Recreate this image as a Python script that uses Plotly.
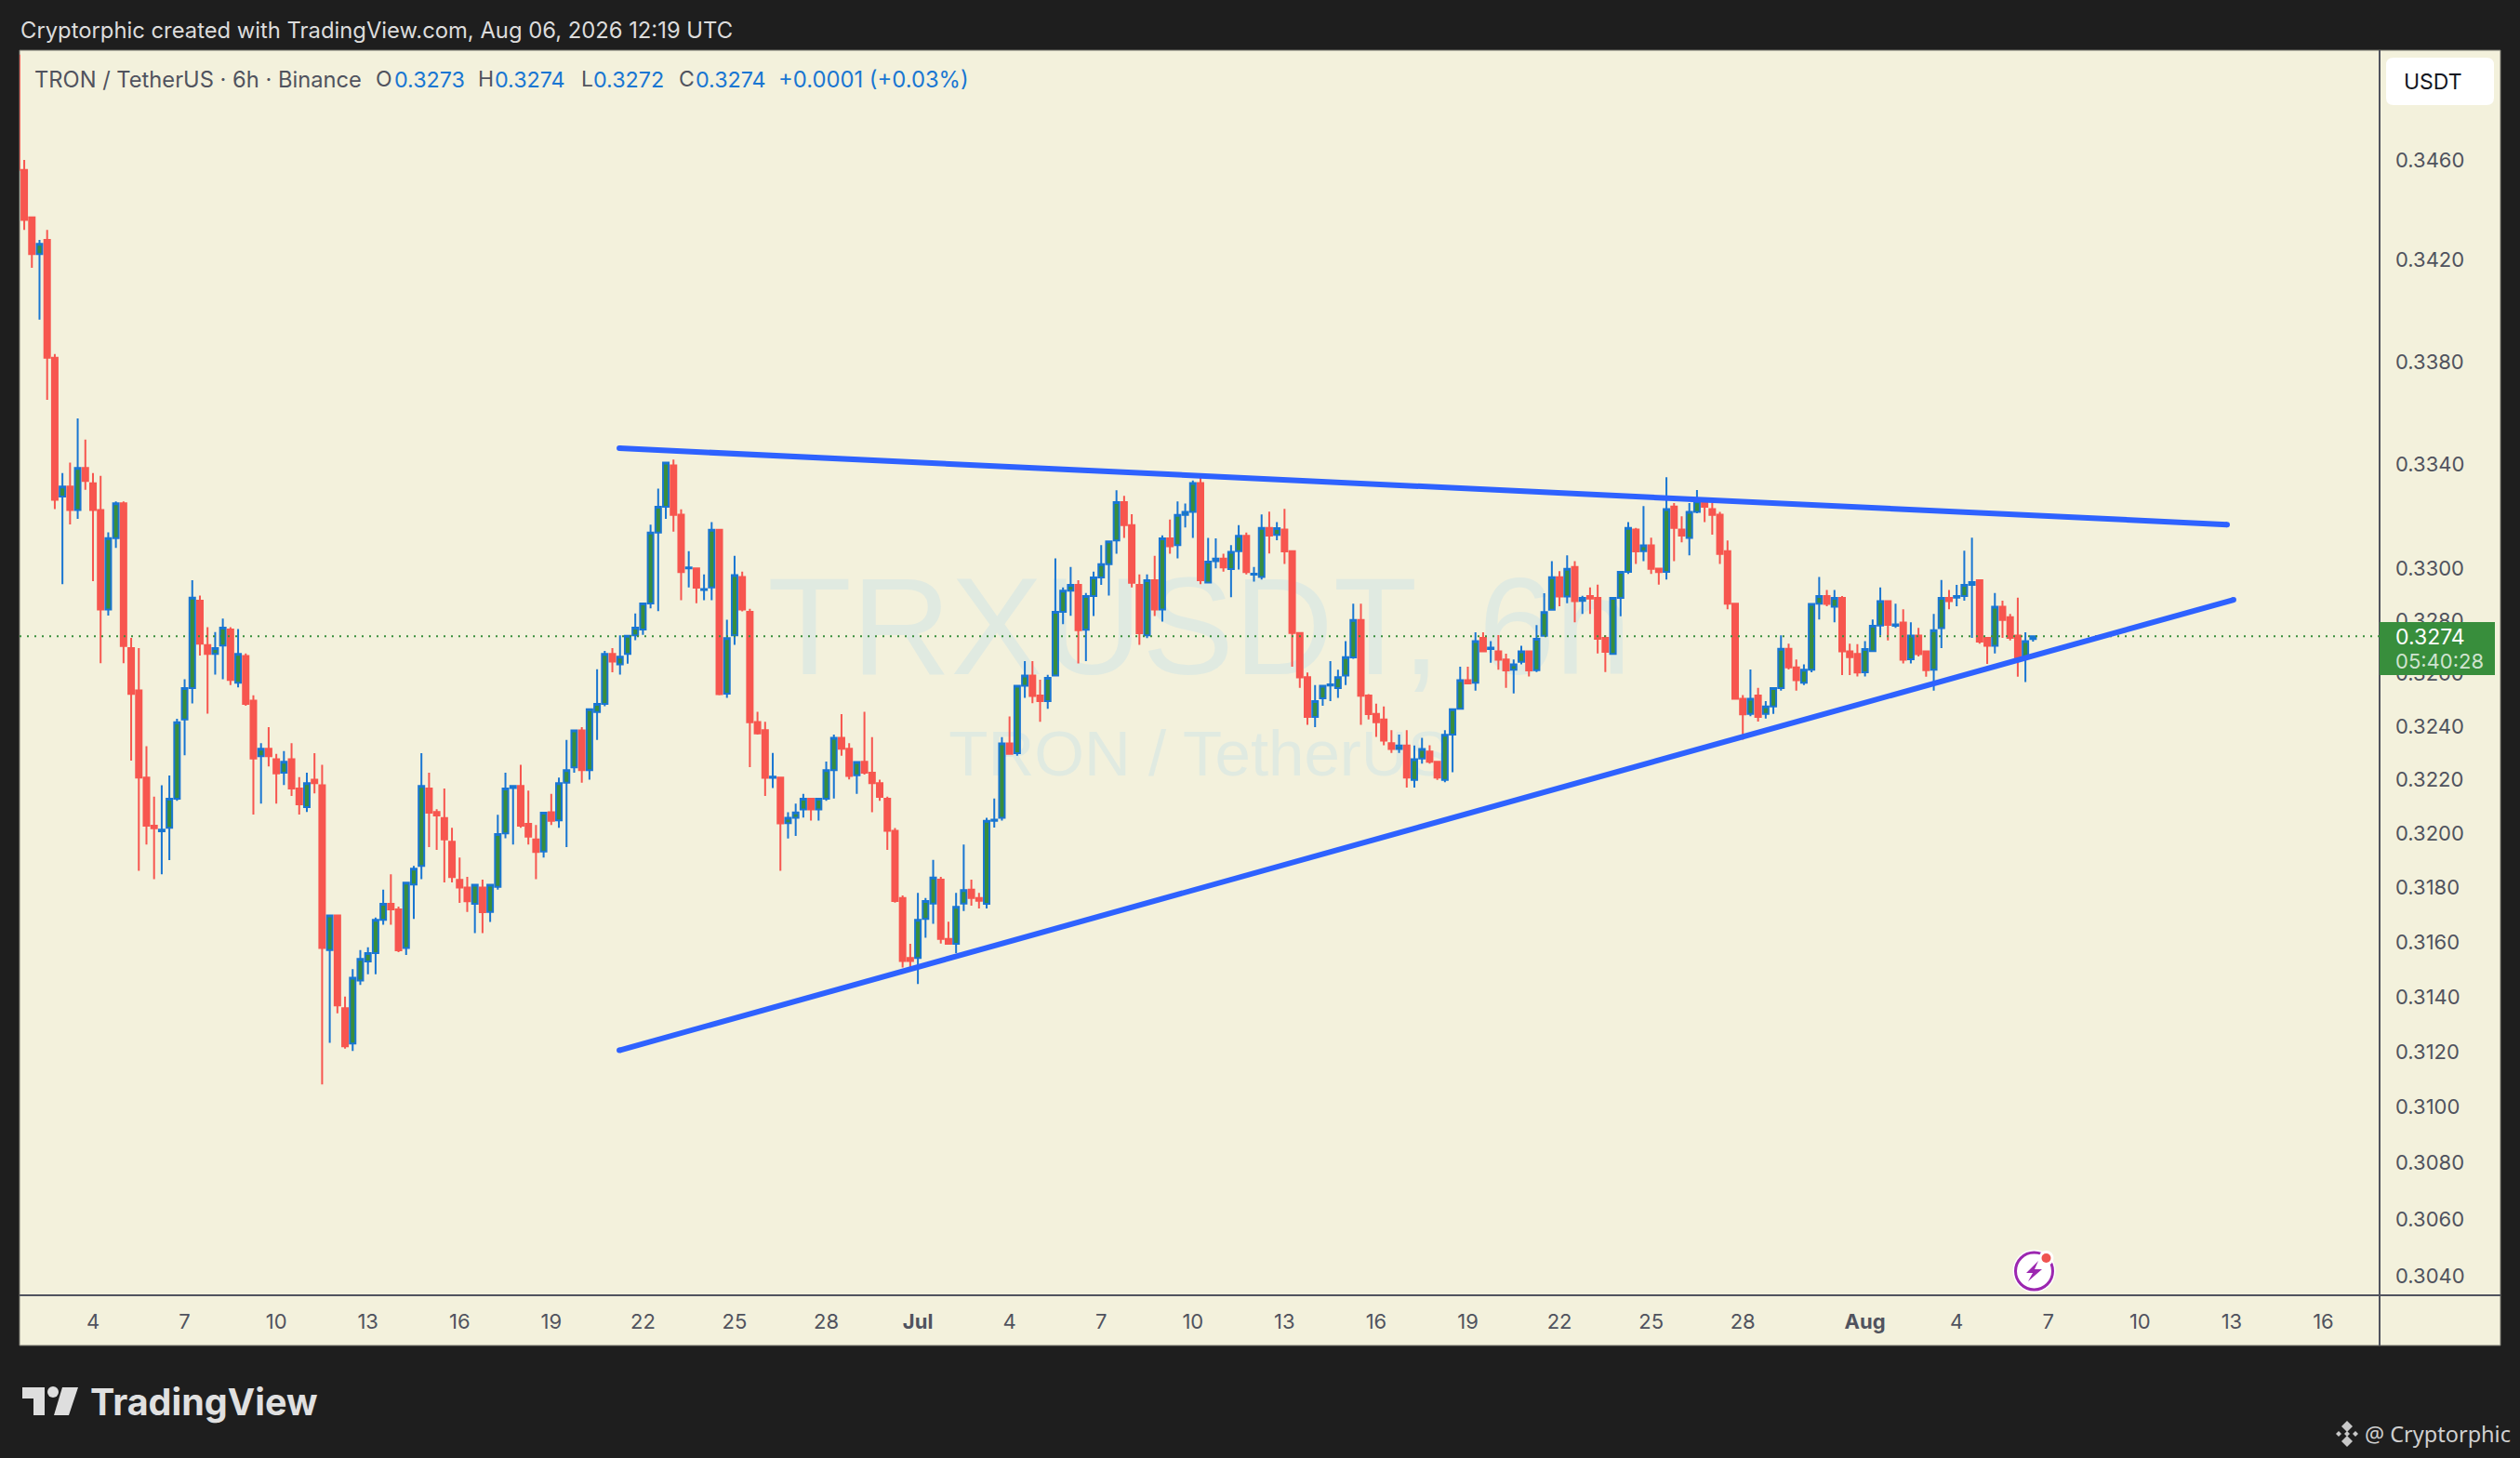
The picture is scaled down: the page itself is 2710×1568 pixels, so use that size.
import math
import pandas as pd
import plotly.graph_objects as go

W, H = 2710, 1568

opens = [
    .35021,
    .34560,.34370,.34224,.34280,.33815,.33275,.33314,.33223,.33386,.33326,
    .33223,.32842,.33115,.33249,.32695,.32535,.32208,.32029,.32008,.32021,
    .32129,.32426,.32544,.32876,.32707,.32673,.32705,.32766,.32564,.32665,
    .32497,.32288,.32316,.32277,.32226,.32277,.32167,.32098,.32200,.32179,
    .31570,.31697,.31358,.31230,.31459,.31528,.31559,.31681,.31740,.31719,
    .31578,.31811,.31880,.32167,.32080,.32057,.31969,.31828,.31800,.31740,
    .31800,.31710,.31802,.32000,.32169,.32177,.32036,.31978,.31933,.32079,
    .32049,.32189,.32246,.32385,.32236,.32454,.32484,.32673,.32634,.32673,
    .32744,.32766,.32865,.33136,.33236,.33396,.33205,.32999,.32999,.32916,
    .32926,.33147,.32523,.32744,.32966,.32833,.32416,.32386,.32207,.32208,
    .32038,.32058,.32089,.32129,.32089,.32129,.32236,.32357,.32316,.32217,
    .32267,.32226,.32187,.32129,.32010,.31761,.31541,.31541,.31684,.31741,
    .31829,.31611,.31593,.31741,.31792,.31761,.31740,.32047,.32058,.32336,
    .32299,.32553,.32591,.32516,.32495,.32591,.32833,.32914,.32936,.32765,
    .32893,.32964,.33015,.33106,.33254,.33165,.32936,.32744,.32954,.32842,
    .33114,.33088,.33204,.33216,.33327,.32945,.33027,.33036,.32996,.33065,
    .33124,.32975,.32966,.33154,.33127,.33148,.33065,.32753,.32585,.32435,
    .32505,.32554,.32544,.32591,.32660,.32802,.32516,.32447,.32426,.32337,
    .32315,.32328,.32199,.32279,.32305,.32267,.32199,.32369,.32466,.32574,
    .32564,.32734,.32692,.32683,.32652,.32613,.32643,.32683,.32612,.32742,
    .32841,.32965,.32892,.33004,.32875,.32893,.32886,.32734,.32673,.32886,
    .32986,.33148,.33065,.33087,.32998,.32986,.33237,.33148,.33116,.33216,
    .33256,.33227,.33205,.33065,.32864,.32504,.32447,.32516,.32447,.32475,
    .32544,.32693,.32622,.32564,.32613,.32864,.32893,.32853,.32886,.32683,
    .32673,.32604,.32684,.32781,.32874,.32780,.32792,.32653,.32743,.32683,
    .32613,.32771,.32886,.32887,.32893,.32936,.32954,.32734,.32704,.32853,
    .32813,.32743,.32657,.32730,
]
highs = [
    .35021,
    .34600,.34370,.34280,.34320,.33830,.33366,.33406,.33578,.33496,.33366,
    .33355,.33137,.33256,.33256,.32734,.32695,.32325,.32137,.32179,.32216,
    .32428,.32577,.32954,.32895,.32775,.32756,.32807,.32775,.32768,.32675,
    .32517,.32337,.32397,.32297,.32307,.32337,.32210,.32226,.32299,.32256,
    .31699,.31699,.31400,.31500,.31570,.31580,.31689,.31792,.31849,.31730,
    .31819,.31880,.32299,.32226,.32090,.32167,.32021,.31911,.31839,.31811,
    .31829,.31811,.32069,.32226,.32179,.32256,.32159,.32031,.32079,.32147,
    .32208,.32349,.32387,.32397,.32464,.32615,.32685,.32695,.32744,.32744,
    .32827,.32865,.33167,.33306,.33408,.33418,.33226,.33065,.33003,.32976,
    .33177,.33148,.32803,.33047,.32987,.32845,.32455,.32417,.32300,.32210,
    .32079,.32111,.32147,.32129,.32129,.32268,.32369,.32446,.32337,.32268,
    .32455,.32359,.32200,.32137,.32020,.31771,.31593,.31780,.31761,.31902,
    .31839,.31674,.31780,.31959,.31829,.31780,.32058,.32130,.32359,.32437,
    .32554,.32646,.32646,.32576,.32594,.33037,.32926,.33004,.32954,.32905,
    .32987,.33088,.33105,.33299,.33278,.33207,.32976,.32976,.33047,.33126,
    .33186,.33256,.33248,.33337,.33355,.33116,.33114,.33055,.33088,.33165,
    .33136,.33004,.33206,.33217,.33177,.33228,.33065,.32753,.32603,.32555,
    .32555,.32646,.32613,.32722,.32864,.32864,.32521,.32485,.32475,.32386,
    .32369,.32386,.32328,.32357,.32329,.32268,.32386,.32464,.32625,.32625,
    .32755,.32755,.32722,.32745,.32674,.32652,.32704,.32684,.32783,.32904,
    .33027,.32988,.33049,.33027,.32894,.32926,.32937,.32744,.32886,.32988,
    .33177,.33154,.33238,.33117,.32998,.33350,.33250,.33199,.33250,.33300,
    .33271,.33250,.33216,.33106,.32864,.32518,.32614,.32545,.32495,.32544,
    .32744,.32712,.32652,.32634,.32863,.32966,.32916,.32916,.32893,.32712,
    .32710,.32722,.32804,.32926,.32874,.32864,.32843,.32793,.32772,.32684,
    .32825,.32955,.32916,.32936,.33067,.33117,.32955,.32734,.32905,.32876,
    .32825,.32887,.32755,.32740,
]
lows = [
    .34560,
    .34320,.34170,.33965,.33650,.33227,.32939,.33168,.33189,.33301,.32950,
    .32638,.32819,.33077,.32638,.32271,.31862,.31959,.31831,.31849,.31901,
    .32121,.32291,.32486,.32667,.32448,.32595,.32577,.32555,.32547,.32477,
    .32070,.32111,.32250,.32111,.32180,.32139,.32070,.32080,.32149,.31082,
    .31232,.31339,.31211,.31203,.31443,.31482,.31482,.31663,.31663,.31562,
    .31552,.31684,.31831,.31949,.31939,.31819,.31819,.31743,.31710,.31632,
    .31632,.31673,.31792,.31982,.31959,.32021,.31959,.31831,.31911,.32031,
    .32021,.31949,.32226,.32189,.32200,.32349,.32476,.32604,.32595,.32636,
    .32725,.32746,.32846,.32836,.33189,.33140,.32877,.32926,.32866,.32877,
    .32877,.32517,.32507,.32708,.32835,.32247,.32369,.32139,.32169,.31862,
    .31981,.31991,.32059,.32048,.32048,.32121,.32130,.32290,.32201,.32147,
    .32219,.32079,.32121,.31939,.31744,.31506,.31506,.31446,.31615,.31666,
    .31594,.31590,.31559,.31713,.31733,.31723,.31723,.32022,.32048,.32295,
    .32290,.32507,.32487,.32417,.32466,.32590,.32786,.32818,.32637,.32646,
    .32817,.32936,.32895,.33055,.33116,.32926,.32708,.32733,.32817,.32796,
    .33055,.33037,.33156,.33116,.32939,.32943,.32999,.32987,.32889,.32995,
    .32976,.32948,.32956,.33056,.33107,.33016,.32625,.32545,.32406,.32397,
    .32477,.32495,.32507,.32555,.32655,.32406,.32426,.32360,.32329,.32300,
    .32300,.32171,.32171,.32260,.32260,.32199,.32191,.32228,.32463,.32560,
    .32534,.32681,.32640,.32613,.32545,.32524,.32634,.32588,.32605,.32740,
    .32840,.32854,.32866,.32793,.32825,.32825,.32675,.32605,.32671,.32816,
    .32978,.33016,.33027,.32978,.32937,.32956,.33027,.33099,.33049,.33211,
    .33177,.33128,.33016,.32843,.32504,.32350,.32438,.32418,.32429,.32447,
    .32534,.32614,.32534,.32555,.32604,.32804,.32854,.32793,.32593,.32593,
    .32588,.32588,.32680,.32744,.32724,.32772,.32637,.32637,.32664,.32587,
    .32534,.32695,.32843,.32854,.32876,.32734,.32712,.32635,.32675,.32734,
    .32724,.32587,.32567,.32720,
]
closes = [
    .34560,
    .34360,.34224,.34265,.33815,.33263,.33314,.33223,.33386,.33335,.33223,
    .32842,.33115,.33249,.32703,.32522,.32208,.32029,.32019,.32014,.32129,
    .32415,.32544,.32887,.32712,.32673,.32695,.32773,.32575,.32673,.32484,
    .32279,.32316,.32288,.32224,.32267,.32167,.32108,.32187,.32187,.31578,
    .31697,.31368,.31220,.31469,.31538,.31559,.31681,.31740,.31719,.31569,
    .31818,.31869,.32177,.32077,.32067,.31978,.31838,.31800,.31749,.31810,
    .31709,.31810,.31998,.32167,.32177,.32029,.31988,.31931,.32077,.32047,
    .32187,.32236,.32385,.32236,.32464,.32484,.32673,.32644,.32663,.32742,
    .32773,.32865,.33136,.33236,.33406,.33204,.32985,.33003,.32925,.32920,
    .33147,.32521,.32733,.32973,.32842,.32415,.32373,.32207,.32211,.32037,
    .32058,.32078,.32129,.32089,.32129,.32236,.32357,.32316,.32214,.32266,
    .32226,.32187,.32136,.32010,.31750,.31530,.31530,.31681,.31750,.31837,
    .31611,.31593,.31729,.31790,.31761,.31751,.32047,.32051,.32336,.32297,
    .32553,.32591,.32514,.32495,.32583,.32833,.32914,.32936,.32763,.32893,
    .32964,.33015,.33102,.33254,.33165,.32944,.32752,.32954,.32842,.33114,
    .33084,.33204,.33216,.33327,.32954,.33025,.33036,.33003,.33062,.33124,
    .32985,.32979,.33154,.33125,.33153,.33064,.32753,.32584,.32435,.32495,
    .32553,.32558,.32585,.32661,.32802,.32515,.32446,.32415,.32346,.32315,
    .32328,.32208,.32277,.32315,.32267,.32208,.32368,.32464,.32574,.32562,
    .32722,.32683,.32697,.32651,.32611,.32634,.32683,.32611,.32731,.32832,
    .32965,.32892,.32997,.32874,.32886,.32884,.32731,.32681,.32886,.32986,
    .33154,.33064,.33087,.32997,.32985,.33227,.33154,.33125,.33216,.33256,
    .33236,.33204,.33054,.32864,.32504,.32445,.32504,.32435,.32475,.32544,
    .32693,.32622,.32574,.32613,.32863,.32893,.32863,.32886,.32683,.32661,
    .32603,.32692,.32780,.32874,.32784,.32785,.32651,.32743,.32672,.32612,
    .32763,.32886,.32874,.32893,.32936,.32947,.32720,.32704,.32853,.32802,
    .32734,.32651,.32722,.32740,
]

first_bar = '2026-06-01 12:00'
last_price = 0.3274

date_ticks = ['2026-06-04','2026-06-07','2026-06-10','2026-06-13','2026-06-16','2026-06-19',
              '2026-06-22','2026-06-25','2026-06-28','2026-07-01','2026-07-04','2026-07-07',
              '2026-07-10','2026-07-13','2026-07-16','2026-07-19','2026-07-22','2026-07-25',
              '2026-07-28','2026-08-01','2026-08-04','2026-08-07','2026-08-10','2026-08-13','2026-08-16']
date_labels = ['4','7','10','13','16','19','22','25','28','<b>Jul</b>','4','7','10','13','16','19',
               '22','25','28','<b>Aug</b>','4','7','10','13','16']

price_ticks = [.3460,.3420,.3380,.3340,.3300,.3280,.3260,.3240,.3220,.3200,
               .3180,.3160,.3140,.3120,.3100,.3080,.3060,.3040]

upper_x = ['2026-06-21 05:30', '2026-08-12 20:24']
upper_y = [.33462, .33167]
lower_x = ['2026-06-21 05:30', '2026-08-13 01:30']
lower_y = [.31205, .32879]

x_range = ['2026-06-01 14:18', '2026-08-17 20:13']
y_range = [math.log10(.30331), math.log10(.35043)]

DARK = '#1e1e1e'
BEIGE = '#f3f1dc'
AXIS = '#50535e'
FONT = 'Inter'
UP_FILL = '#388e3c'
UP_LINE = '#1976d2'
DOWN = '#f7564f'
TREND = '#2e62ff'
LEFT, RIGHT, TOP, BOTTOM = 21, 2559, 54, 1393


def fx(x):
    return x / W


def fy(y):
    return 1 - y / H


def rect(x0, y0, x1, y1, fill, layer='above', line=None, lw=0):
    return dict(type='rect', xref='paper', yref='paper', x0=fx(x0), x1=fx(x1), y0=fy(y0), y1=fy(y1),
                fillcolor=fill, layer=layer, line=dict(color=line or fill, width=lw))


def circle(cx, cy, r, fill, line=None, lw=0):
    return dict(type='circle', xref='paper', yref='paper', x0=fx(cx - r), x1=fx(cx + r),
                y0=fy(cy - r), y1=fy(cy + r), fillcolor=fill, layer='above',
                line=dict(color=line or fill, width=lw))


def poly(points, fill):
    d = 'M ' + ' L '.join(f'{fx(x)} {fy(y)}' for x, y in points) + ' Z'
    return dict(type='path', xref='paper', yref='paper', path=d, fillcolor=fill, layer='above',
                line=dict(color=fill, width=0))


def label(x, y, text, color, size, anchor='left', font=FONT):
    return dict(xref='paper', yref='paper', x=fx(x), y=fy(y), text=text, showarrow=False,
                xanchor=anchor, yanchor='middle', align=anchor, borderpad=0,
                font=dict(family=font, size=size, color=color))


bars = pd.date_range(first_bar, periods=len(opens), freq='6h')

fig = go.Figure()

# watermark sits on the lower subplot so the candles stay on top of it
fig.add_trace(go.Scatter(x=[.5, .5], y=[.5265, .43], mode='text', text=['TRXUSDT, 6h', 'TRON / TetherUS'],
                         textposition='middle center', hoverinfo='skip', xaxis='x', yaxis='y',
                         textfont=dict(family='Liberation Sans', size=[148, 69], color='#e0eae1')))

fig.add_trace(go.Candlestick(x=bars, open=opens, high=highs, low=lows, close=closes,
                             xaxis='x2', yaxis='y2', whiskerwidth=0,
                             increasing=dict(fillcolor=UP_FILL, line=dict(color=UP_LINE, width=2)),
                             decreasing=dict(fillcolor=DOWN, line=dict(color=DOWN, width=2))))

fig.add_trace(go.Scatter(x=x_range, y=[last_price, last_price], mode='lines', xaxis='x2', yaxis='y2',
                         hoverinfo='skip', line=dict(color=UP_FILL, width=2, dash='2px,6px')))

for tx, ty in [(upper_x, upper_y), (lower_x, lower_y)]:
    fig.add_trace(go.Scatter(x=tx, y=ty, mode='lines+markers', xaxis='x2', yaxis='y2', hoverinfo='skip',
                             line=dict(color=TREND, width=6), marker=dict(color=TREND, size=6)))

shapes = [
    rect(LEFT, TOP, 2689, 1447, BEIGE, layer='below', line='#77776f', lw=1),
    rect(RIGHT - 1, TOP, RIGHT + 1, 1447, AXIS, layer='below'),
    rect(LEFT, BOTTOM - 1, 2689, BOTTOM + 1, AXIS, layer='below'),
    rect(2559, 669, 2683, 726, '#388e3c'),
    dict(type='path', xref='paper', yref='paper', fillcolor='white', layer='above', line=dict(width=0),
         path=(f'M {fx(2574)} {fy(62)} L {fx(2674)} {fy(62)} Q {fx(2682)} {fy(62)} {fx(2682)} {fy(70)} '
               f'L {fx(2682)} {fy(105)} Q {fx(2682)} {fy(113)} {fx(2674)} {fy(113)} '
               f'L {fx(2574)} {fy(113)} Q {fx(2566)} {fy(113)} {fx(2566)} {fy(105)} '
               f'L {fx(2566)} {fy(70)} Q {fx(2566)} {fy(62)} {fx(2574)} {fy(62)} Z')),
    # lightning badge
    circle(2187.5, 1367, 23, 'white'),
    circle(2187.5, 1367, 20, 'white', line='#9c27b0', lw=3),
    poly([(2192, 1356), (2179, 1369), (2186, 1369), (2181, 1378), (2196, 1365), (2188, 1365)], '#9c27b0'),
    circle(2200.5, 1353, 8, 'white'),
    circle(2200.5, 1353, 5, '#ef5350'),
    # TradingView mark
    poly([(24, 1492), (48, 1492), (48, 1522), (36, 1522), (36, 1504), (24, 1504)], '#dedede'),
    circle(57, 1497, 6, '#dedede'),
    poly([(67, 1492), (84, 1492), (74, 1522), (58, 1522)], '#dedede'),
    # exchange mark
    poly([(2524, 1528), (2530, 1534), (2524, 1540), (2518, 1534)], '#c8c8c8'),
    poly([(2524, 1544), (2530, 1550), (2524, 1556), (2518, 1550)], '#c8c8c8'),
    poly([(2515, 1539), (2518, 1542), (2515, 1545), (2512, 1542)], '#c8c8c8'),
    poly([(2533, 1539), (2536, 1542), (2533, 1545), (2530, 1542)], '#c8c8c8'),
    poly([(2524, 1539), (2527, 1542), (2524, 1545), (2521, 1542)], '#c8c8c8'),
]

HEAD = '#50535e'
QUOTE = '#1976d2'
annotations = [
    label(21, 32, 'Cryptorphic created with TradingView.com, Aug 06, 2026 12:19 UTC', '#dcdcdc', 23.8),
    label(36, 85, 'TRON / TetherUS · 6h · Binance', HEAD, 23.7),
    label(403, 85, 'O', HEAD, 23), label(423, 85, '0.3273', QUOTE, 23.3),
    label(513, 85, 'H', HEAD, 23), label(531, 85, '0.3274', QUOTE, 23.3),
    label(624, 85, 'L', HEAD, 23), label(637, 85, '0.3272', QUOTE, 23.3),
    label(729, 85, 'C', HEAD, 23), label(747, 85, '0.3274', QUOTE, 23.3),
    label(836, 85, '+0.0001 (+0.03%)', QUOTE, 23.8),
    label(2584, 88, 'USDT', '#131722', 23),
    label(2575, 685, '0.3274', 'white', 23),
    label(2575, 711, '05:40:28', '#cfe3cf', 22),
    label(96, 1508, '<b>TradingView</b>', '#e0e0e0', 39.5, font='Inter'),
    label(2542, 1542, '@ Cryptorphic', '#cfcfcf', 23.5, font='Noto Sans'),
]

fig.update_layout(
    width=W, height=H, autosize=False,
    margin=dict(l=0, r=0, t=0, b=0),
    paper_bgcolor=DARK, plot_bgcolor='rgba(0,0,0,0)',
    showlegend=False, dragmode=False, boxgap=0.27, boxgroupgap=0,
    shapes=shapes, annotations=annotations,
    xaxis=dict(visible=False, range=[0, 1], domain=[fx(LEFT), fx(RIGHT)], fixedrange=True),
    yaxis=dict(visible=False, range=[0, 1], domain=[fy(BOTTOM), fy(TOP)], fixedrange=True),
    xaxis2=dict(overlaying='x', anchor='y2', domain=[fx(LEFT), fx(RIGHT)], type='date', range=x_range,
                rangeslider=dict(visible=False), showgrid=False, zeroline=False, showline=False,
                tickmode='array', tickvals=date_ticks, ticktext=date_labels, ticks='', tickangle=0,
                ticklabelstandoff=13, tickfont=dict(family=FONT, size=22, color=HEAD)),
    yaxis2=dict(overlaying='y', anchor='x2', side='right', domain=[fy(BOTTOM), fy(TOP)], type='log',
                range=y_range, showgrid=False, zeroline=False, showline=False,
                tickmode='array', tickvals=price_ticks, ticktext=[f'{v:.4f}' for v in price_ticks],
                ticks='', ticklabelstandoff=16, tickfont=dict(family=FONT, size=22, color=HEAD)),
)

fig.write_html('out.html', config=dict(displayModeBar=False),
               post_script="document.body.style.margin='0';document.body.style.overflow='hidden';document.body.style.background='#1e1e1e';")
